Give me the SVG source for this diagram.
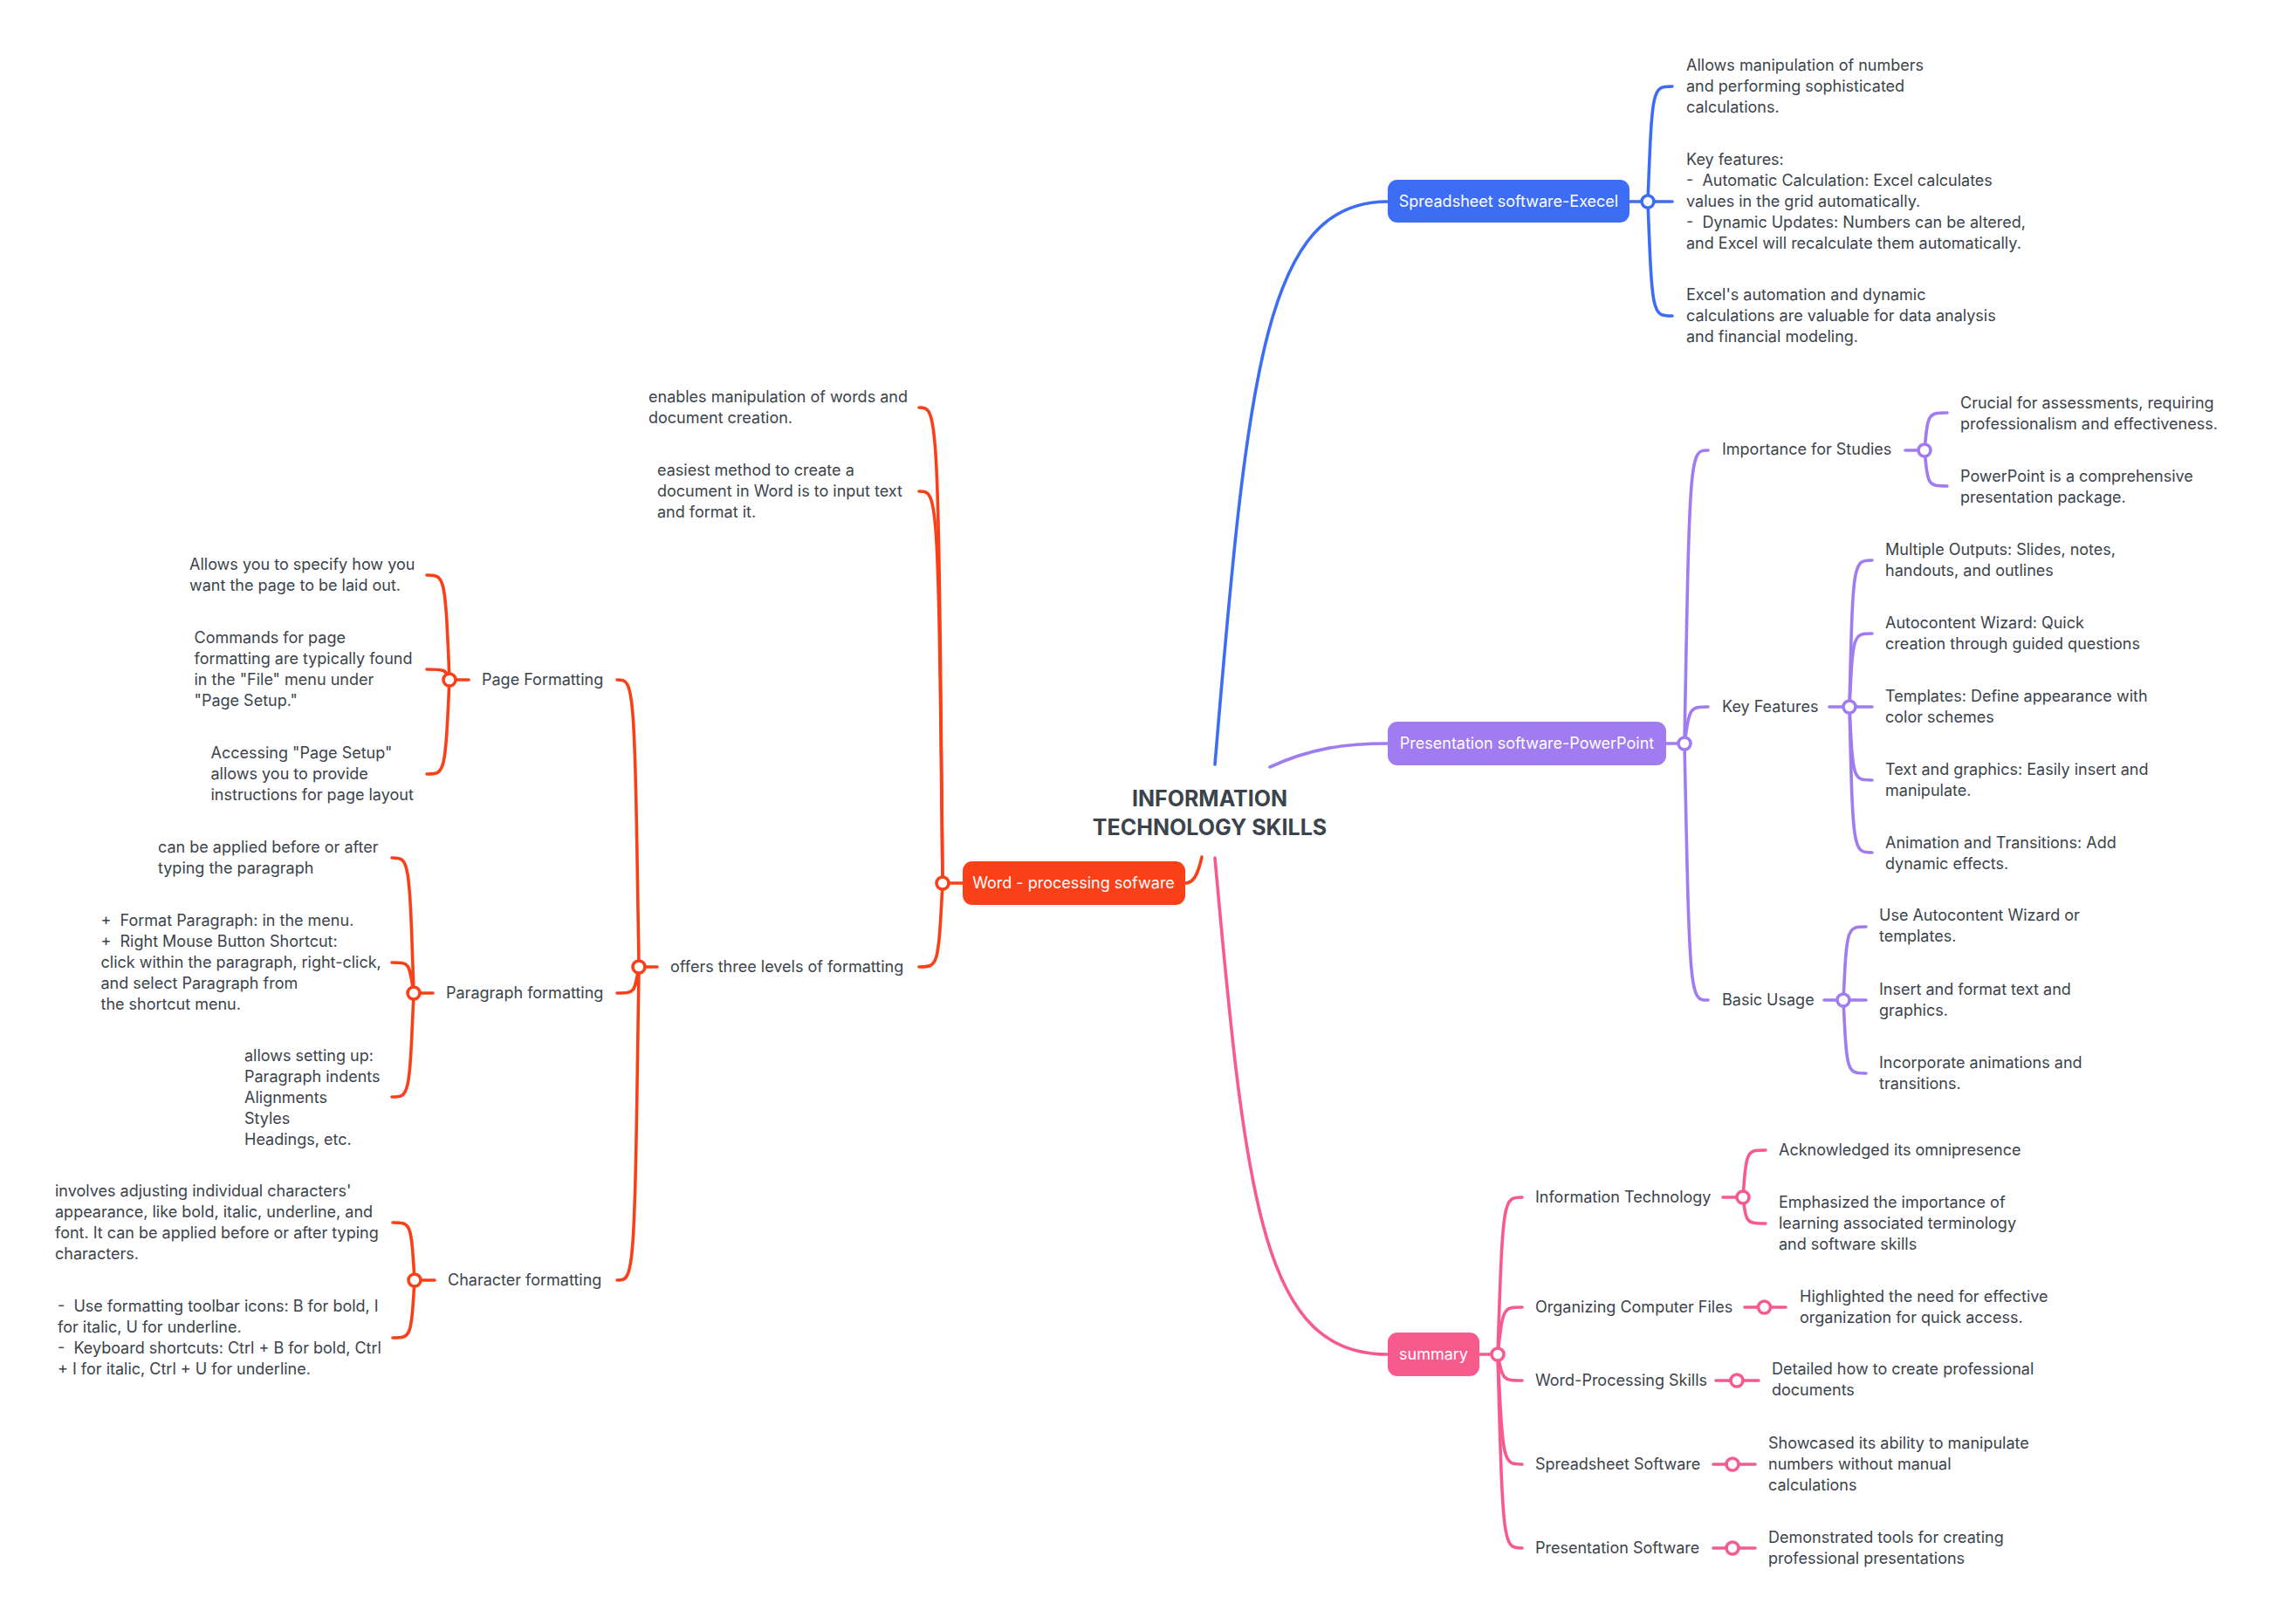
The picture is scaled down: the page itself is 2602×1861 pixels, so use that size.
<svg xmlns="http://www.w3.org/2000/svg" width="2602" height="1861" viewBox="0 0 2602 1861">
<style>
.t{font-family:Inter,"Liberation Sans",sans-serif;font-size:18px;fill:#3b434c}
.b{font-family:Inter,"Liberation Sans",sans-serif;font-size:18px;fill:#ffffff;text-anchor:middle}
.title{font-family:Inter,"Liberation Sans",sans-serif;font-size:25px;font-weight:700;fill:#3b434c;text-anchor:middle}
.pre{white-space:pre}
.c{fill:none;stroke-width:3.6;stroke-linecap:round}
.cB{stroke:#3d6df5}.cP{stroke:#a07cf0}.cR{stroke:#fa4019}.cK{stroke:#f75a8c}
.h{fill:#ffffff;stroke-width:3.6}
</style>
<rect width="2602" height="1861" fill="#ffffff"/>
<g id="connectors">
<!-- central -->
<path class="c cB" d="M1392,876 C1430,420 1450,231 1590,231"/>
<path class="c cP" d="M1455,879 C1500,858 1540,852 1590,852"/>
<path class="c cR" d="M1377,982 C1372,1005 1366,1012 1358,1012"/>
<path class="c cK" d="M1392,983 C1428,1385 1448,1552 1590,1552"/>
<!-- blue -->
<path class="c cB" d="M1867,231 L1916,231"/>
<path class="c cB" d="M1888,231 C1893,99 1893,99 1916,99"/>
<path class="c cB" d="M1888,231 C1893,362 1893,362 1916,362"/>
<!-- purple -->
<path class="c cP" d="M1909,852 L1930,852"/>
<path class="c cP" d="M1930,852 C1936,516 1936,516 1957,516"/>
<path class="c cP" d="M1930,852 C1936,810 1936,810 1957,810"/>
<path class="c cP" d="M1930,852 C1936,1146 1936,1146 1957,1146"/>
<path class="c cP" d="M2183,516 L2205,516"/>
<path class="c cP" d="M2205,516 C2209,473 2209,473 2231,473"/>
<path class="c cP" d="M2205,516 C2209,557 2209,557 2231,557"/>
<path class="c cP" d="M2096,810 L2145,810"/>
<path class="c cP" d="M2119,810 C2123,642 2123,642 2145,642"/>
<path class="c cP" d="M2119,810 C2123,726 2123,726 2145,726"/>
<path class="c cP" d="M2119,810 C2123,894 2123,894 2145,894"/>
<path class="c cP" d="M2119,810 C2123,977 2123,977 2145,977"/>
<path class="c cP" d="M2090,1146 L2138,1146"/>
<path class="c cP" d="M2112,1146 C2116,1062 2116,1062 2138,1062"/>
<path class="c cP" d="M2112,1146 C2116,1230 2116,1230 2138,1230"/>
<!-- pink -->
<path class="c cK" d="M1695,1552 L1716,1552"/>
<path class="c cK" d="M1716,1552 C1722,1372 1722,1372 1744,1372"/>
<path class="c cK" d="M1716,1552 C1722,1498 1722,1498 1744,1498"/>
<path class="c cK" d="M1716,1552 C1722,1582 1722,1582 1744,1582"/>
<path class="c cK" d="M1716,1552 C1722,1678 1722,1678 1744,1678"/>
<path class="c cK" d="M1716,1552 C1722,1774 1722,1774 1744,1774"/>
<path class="c cK" d="M1974,1372 L1997,1372"/>
<path class="c cK" d="M1997,1372 C2001,1318 2001,1318 2023,1318"/>
<path class="c cK" d="M1997,1372 C2001,1402 2001,1402 2023,1402"/>
<path class="c cK" d="M1999,1498 L2046,1498"/>
<path class="c cK" d="M1966,1582 L2015,1582"/>
<path class="c cK" d="M1963,1678 L2011,1678"/>
<path class="c cK" d="M1963,1774 L2011,1774"/>
<!-- red -->
<path class="c cR" d="M1103,1012 L1080,1012"/>
<path class="c cR" d="M1080,1012 C1075,467 1075,467 1053,467"/>
<path class="c cR" d="M1080,1012 C1075,563 1075,563 1053,563"/>
<path class="c cR" d="M1080,1012 C1075,1108 1075,1108 1053,1108"/>
<path class="c cR" d="M753,1108 L732,1108"/>
<path class="c cR" d="M732,1108 C727,779 727,779 707,779"/>
<path class="c cR" d="M732,1108 C727,1138 727,1138 707,1138"/>
<path class="c cR" d="M732,1108 C727,1467 727,1467 707,1467"/>
<path class="c cR" d="M537,779 L515,779"/>
<path class="c cR" d="M515,779 C510,659 510,659 489,659"/>
<path class="c cR" d="M515,779 C510,767 510,767 489,767"/>
<path class="c cR" d="M515,779 C510,887 510,887 489,887"/>
<path class="c cR" d="M496,1138 L474,1138"/>
<path class="c cR" d="M474,1138 C469,983 469,983 449,983"/>
<path class="c cR" d="M474,1138 C469,1103 469,1103 449,1103"/>
<path class="c cR" d="M474,1138 C469,1257 469,1257 449,1257"/>
<path class="c cR" d="M498,1467 L475,1467"/>
<path class="c cR" d="M475,1467 C471,1401 471,1401 450,1401"/>
<path class="c cR" d="M475,1467 C471,1533 471,1533 450,1533"/>
</g>

<g id="central">
<text class="title" x="1386" y="924">INFORMATION</text>
<text class="title" x="1386" y="957">TECHNOLOGY SKILLS</text>
</g>

<!-- Blue -->
<g id="excel">
<rect x="1590" y="206" width="277" height="49" rx="11" fill="#3d6df5"/>
<text class="b" x="1728.5" y="237">Spreadsheet software-Execel</text>
<circle class="h cB" cx="1888" cy="231" r="7"/>
</g>
<g id="excel-1"><text class="t" x="1932"><tspan x="1932" y="81">Allows manipulation of numbers</tspan><tspan x="1932" y="105">and performing sophisticated</tspan><tspan x="1932" y="129">calculations.</tspan></text></g>
<g id="excel-2"><text class="t pre" x="1932"><tspan x="1932" y="189">Key features:</tspan><tspan x="1932" y="213">-  Automatic Calculation: Excel calculates</tspan><tspan x="1932" y="237">values in the grid automatically.</tspan><tspan x="1932" y="261">-  Dynamic Updates: Numbers can be altered,</tspan><tspan x="1932" y="285">and Excel will recalculate them automatically.</tspan></text></g>
<g id="excel-3"><text class="t" x="1932"><tspan x="1932" y="344">Excel's automation and dynamic</tspan><tspan x="1932" y="368">calculations are valuable for data analysis</tspan><tspan x="1932" y="392">and financial modeling.</tspan></text></g>

<!-- Purple -->
<g id="powerpoint">
<rect x="1590" y="827" width="319" height="50" rx="11" fill="#a07cf0"/>
<text class="b" x="1749.5" y="858">Presentation software-PowerPoint</text>
<circle class="h cP" cx="1930" cy="852" r="7"/>
</g>
<g id="importance">
<text class="t" x="1973" y="521">Importance for Studies</text>
<circle class="h cP" cx="2205" cy="516" r="7"/>
</g>
<g id="imp-1"><text class="t"><tspan x="2246" y="468">Crucial for assessments, requiring</tspan><tspan x="2246" y="492">professionalism and effectiveness.</tspan></text></g>
<g id="imp-2"><text class="t"><tspan x="2246" y="552">PowerPoint is a comprehensive</tspan><tspan x="2246" y="576">presentation package.</tspan></text></g>
<g id="keyfeatures">
<text class="t" x="1973" y="816">Key Features</text>
<circle class="h cP" cx="2119" cy="810" r="7"/>
</g>
<g id="kf-1"><text class="t"><tspan x="2160" y="636">Multiple Outputs: Slides, notes,</tspan><tspan x="2160" y="660">handouts, and outlines</tspan></text></g>
<g id="kf-2"><text class="t"><tspan x="2160" y="720">Autocontent Wizard: Quick</tspan><tspan x="2160" y="744">creation through guided questions</tspan></text></g>
<g id="kf-3"><text class="t"><tspan x="2160" y="804">Templates: Define appearance with</tspan><tspan x="2160" y="828">color schemes</tspan></text></g>
<g id="kf-4"><text class="t"><tspan x="2160" y="888">Text and graphics: Easily insert and</tspan><tspan x="2160" y="912">manipulate.</tspan></text></g>
<g id="kf-5"><text class="t"><tspan x="2160" y="972">Animation and Transitions: Add</tspan><tspan x="2160" y="996">dynamic effects.</tspan></text></g>
<g id="basicusage">
<text class="t" x="1973" y="1152">Basic Usage</text>
<circle class="h cP" cx="2112" cy="1146" r="7"/>
</g>
<g id="bu-1"><text class="t"><tspan x="2153" y="1055">Use Autocontent Wizard or</tspan><tspan x="2153" y="1079">templates.</tspan></text></g>
<g id="bu-2"><text class="t"><tspan x="2153" y="1140">Insert and format text and</tspan><tspan x="2153" y="1164">graphics.</tspan></text></g>
<g id="bu-3"><text class="t"><tspan x="2153" y="1224">Incorporate animations and</tspan><tspan x="2153" y="1248">transitions.</tspan></text></g>

<!-- Pink -->
<g id="summary">
<rect x="1590" y="1527" width="105" height="50" rx="11" fill="#f75a8c"/>
<text class="b" x="1642.5" y="1558">summary</text>
<circle class="h cK" cx="1716" cy="1552" r="7"/>
</g>
<g id="infotech">
<text class="t" x="1759" y="1378">Information Technology</text>
<circle class="h cK" cx="1997" cy="1372" r="7"/>
</g>
<g id="it-1"><text class="t" x="2038" y="1324">Acknowledged its omnipresence</text></g>
<g id="it-2"><text class="t"><tspan x="2038" y="1384">Emphasized the importance of</tspan><tspan x="2038" y="1408">learning associated terminology</tspan><tspan x="2038" y="1432">and software skills</tspan></text></g>
<g id="organizing">
<text class="t" x="1759" y="1504">Organizing Computer Files</text>
<circle class="h cK" cx="2021.5" cy="1498" r="7"/>
</g>
<g id="org-1"><text class="t"><tspan x="2062" y="1492">Highlighted the need for effective</tspan><tspan x="2062" y="1516">organization for quick access.</tspan></text></g>
<g id="wordskills">
<text class="t" x="1759" y="1588">Word-Processing Skills</text>
<circle class="h cK" cx="1990" cy="1582" r="7"/>
</g>
<g id="ws-1"><text class="t"><tspan x="2030" y="1575">Detailed how to create professional</tspan><tspan x="2030" y="1599">documents</tspan></text></g>
<g id="spreadsheet">
<text class="t" x="1759" y="1684">Spreadsheet Software</text>
<circle class="h cK" cx="1985" cy="1678" r="7"/>
</g>
<g id="ss-1"><text class="t"><tspan x="2026" y="1660">Showcased its ability to manipulate</tspan><tspan x="2026" y="1684">numbers without manual</tspan><tspan x="2026" y="1708">calculations</tspan></text></g>
<g id="presentation">
<text class="t" x="1759" y="1780">Presentation Software</text>
<circle class="h cK" cx="1985" cy="1774" r="7"/>
</g>
<g id="ps-1"><text class="t"><tspan x="2026" y="1768">Demonstrated tools for creating</tspan><tspan x="2026" y="1792">professional presentations</tspan></text></g>

<!-- Red -->
<g id="word">
<rect x="1103" y="987" width="255" height="50" rx="11" fill="#fa4019"/>
<text class="b" x="1230" y="1018">Word - processing sofware</text>
<circle class="h cR" cx="1080" cy="1012" r="7"/>
</g>
<g id="w-1"><text class="t"><tspan x="743" y="461">enables manipulation of words and</tspan><tspan x="743" y="485">document creation.</tspan></text></g>
<g id="w-2"><text class="t"><tspan x="753" y="545">easiest method to create a</tspan><tspan x="753" y="569">document in Word is to input text</tspan><tspan x="753" y="593">and format it.</tspan></text></g>
<g id="offers">
<text class="t" x="768" y="1114">offers three levels of formatting</text>
<circle class="h cR" cx="732" cy="1108" r="7"/>
</g>
<g id="pageformatting">
<text class="t" x="552" y="785">Page Formatting</text>
<circle class="h cR" cx="515" cy="779" r="7"/>
</g>
<g id="pf-1"><text class="t"><tspan x="217" y="653">Allows you to specify how you</tspan><tspan x="217" y="677">want the page to be laid out.</tspan></text></g>
<g id="pf-2"><text class="t"><tspan x="222.5" y="737">Commands for page</tspan><tspan x="222.5" y="761">formatting are typically found</tspan><tspan x="222.5" y="785">in the "File" menu under</tspan><tspan x="222.5" y="809">"Page Setup."</tspan></text></g>
<g id="pf-3"><text class="t"><tspan x="241.5" y="869">Accessing "Page Setup"</tspan><tspan x="241.5" y="893">allows you to provide</tspan><tspan x="241.5" y="917">instructions for page layout</tspan></text></g>
<g id="paragraphformatting">
<text class="t" x="511" y="1144">Paragraph formatting</text>
<circle class="h cR" cx="474" cy="1138" r="7"/>
</g>
<g id="pa-1"><text class="t"><tspan x="181" y="977">can be applied before or after</tspan><tspan x="181" y="1001">typing the paragraph</tspan></text></g>
<g id="pa-2"><text class="t pre"><tspan x="115.5" y="1061">+  Format Paragraph: in the menu.</tspan><tspan x="115.5" y="1085">+  Right Mouse Button Shortcut:</tspan><tspan x="115.5" y="1109">click within the paragraph, right-click,</tspan><tspan x="115.5" y="1133">and select Paragraph from</tspan><tspan x="115.5" y="1157">the shortcut menu.</tspan></text></g>
<g id="pa-3"><text class="t"><tspan x="280" y="1216">allows setting up:</tspan><tspan x="280" y="1240">Paragraph indents</tspan><tspan x="280" y="1264">Alignments</tspan><tspan x="280" y="1288">Styles</tspan><tspan x="280" y="1312">Headings, etc.</tspan></text></g>
<g id="characterformatting">
<text class="t" x="513" y="1473">Character formatting</text>
<circle class="h cR" cx="475" cy="1467" r="7"/>
</g>
<g id="cf-1"><text class="t"><tspan x="63" y="1371">involves adjusting individual characters'</tspan><tspan x="63" y="1395">appearance, like bold, italic, underline, and</tspan><tspan x="63" y="1419">font. It can be applied before or after typing</tspan><tspan x="63" y="1443">characters.</tspan></text></g>
<g id="cf-2"><text class="t pre"><tspan x="66" y="1503">-  Use formatting toolbar icons: B for bold, I</tspan><tspan x="66" y="1527">for italic, U for underline.</tspan><tspan x="66" y="1551">-  Keyboard shortcuts: Ctrl + B for bold, Ctrl</tspan><tspan x="66" y="1575">+ I for italic, Ctrl + U for underline.</tspan></text></g>
</svg>
